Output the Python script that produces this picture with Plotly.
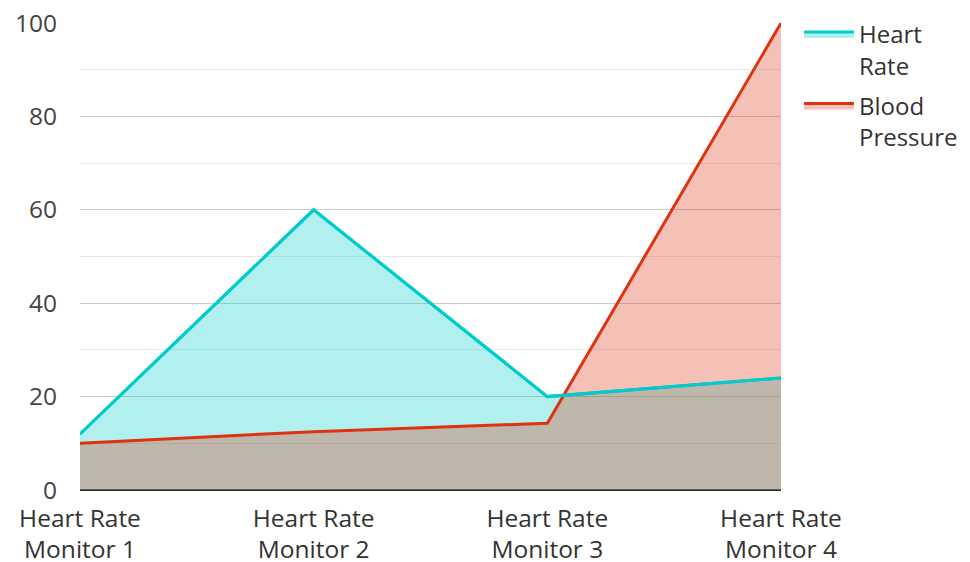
import plotly.graph_objects as go

categories = ["Heart Rate<br>Monitor 1", "Heart Rate<br>Monitor 2", "Heart Rate<br>Monitor 3", "Heart Rate<br>Monitor 4"]
heart_rate = [12, 60, 20, 24]
blood_pressure = [10, 12.5, 14.3, 100]
series_names = ["Heart<br>Rate", "Blood<br>Pressure"]
y_ticks = [0, 20, 40, 60, 80, 100]

xpos = list(range(len(categories)))
cyan = "rgb(0,204,204)"
red = "rgb(221,51,17)"

fig = go.Figure()
fig.add_trace(go.Scatter(
    x=xpos, y=heart_rate, name=series_names[0], mode="lines", legendgroup="hr",
    line=dict(color=cyan, width=3),
    fill="tozeroy", fillcolor="rgba(0,204,204,0.3)",
))
fig.add_trace(go.Scatter(
    x=xpos, y=blood_pressure, name=series_names[1], mode="lines", legendgroup="bp",
    line=dict(color=red, width=3),
    fill="tozeroy", fillcolor="rgba(221,51,17,0.3)",
))
fig.add_trace(go.Scatter(
    x=xpos, y=heart_rate, mode="lines", showlegend=False, hoverinfo="skip",
    legendgroup="hr", line=dict(color=cyan, width=3),
))

fig.update_layout(
    width=962, height=554,
    margin=dict(l=72, r=189, t=15, b=72),
    paper_bgcolor="white", plot_bgcolor="white",
    font=dict(family="Open Sans", size=24, color="#333"),
    xaxis=dict(
        range=[0, 3], tickvals=xpos, ticktext=categories,
        showgrid=False, zeroline=False, showline=False,
        tickfont=dict(size=24.5, color="#333"),
        automargin=False, ticklabelstandoff=11, ticklabeloverflow="allow",
    ),
    yaxis=dict(
        range=[0, 100], tickvals=y_ticks,
        showgrid=True, gridcolor="#cccccc", gridwidth=1,
        zeroline=True, zerolinecolor="#333333", zerolinewidth=2,
        tickfont=dict(size=24.5, color="#444"),
        ticks="", automargin=False, ticklabelstandoff=22, ticklabeloverflow="allow",
        minor=dict(dtick=10, showgrid=True, gridcolor="#e8e8e8", gridwidth=1),
    ),
    legend=dict(
        xref="container", yref="container",
        x=0.8222, y=0.9928, xanchor="left", yanchor="top",
        font=dict(size=24, color="#333"),
        itemwidth=50, valign="top", tracegroupgap=6,
    ),
    showlegend=True,
)

fig.write_html("out.html")
